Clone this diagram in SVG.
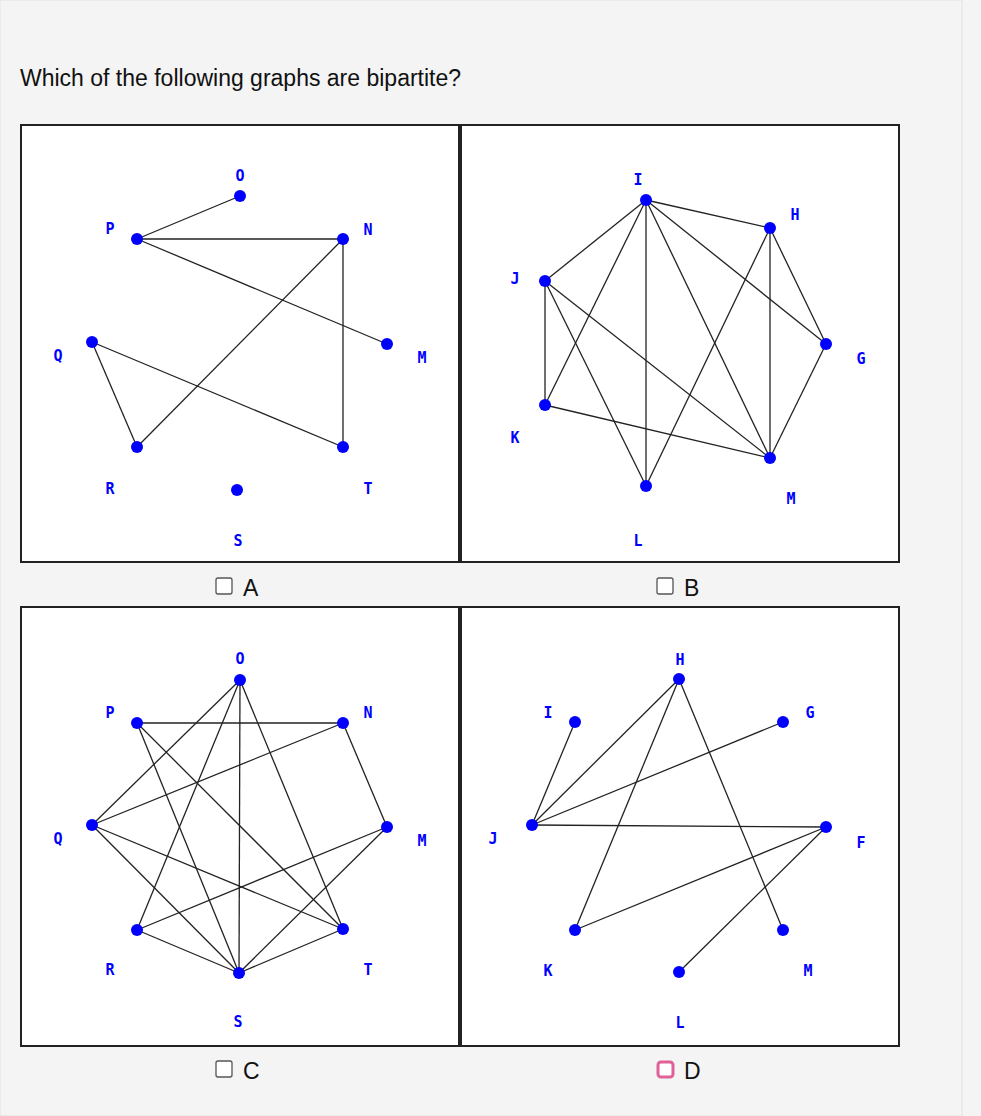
<svg xmlns="http://www.w3.org/2000/svg" width="981" height="1116" viewBox="0 0 981 1116">
<style>
.bg{fill:#f4f4f4}
.panel{fill:#fff;stroke:#222;stroke-width:2}
.e{stroke:#222;stroke-width:1.3;fill:none}
.n{fill:#0000ff}
.lb{fill:#0000ff;font-family:"DejaVu Sans Mono",monospace;font-weight:bold;font-size:15px;text-anchor:middle}
.q{font-family:"Liberation Sans",Arial,sans-serif;font-size:23px;fill:#111}
.cb{fill:#fff;stroke:#555;stroke-width:1.3}
.cbp{fill:#fff;stroke:#e0609a;stroke-width:3}
.ol{font-family:"Liberation Sans",Arial,sans-serif;font-size:23px;fill:#111}
</style>
<rect class="bg" width="981" height="1116"/>
<rect x="0" y="0" width="962" height="1116" fill="#f4f4f4" stroke="#e2e2e2"/>
<text class="q" x="20" y="86">Which of the following graphs are bipartite?</text>
<rect class="panel" x="21" y="125" width="438" height="437"/>
<rect class="panel" x="461" y="125" width="438" height="437"/>
<rect class="panel" x="21" y="607" width="438" height="439"/>
<rect class="panel" x="461" y="607" width="438" height="439"/>
<g id="connectors">
<line class="e" x1="240" y1="196" x2="137" y2="239"/>
<line class="e" x1="137" y1="239" x2="343" y2="239"/>
<line class="e" x1="137" y1="239" x2="387" y2="344"/>
<line class="e" x1="343" y1="239" x2="343" y2="447"/>
<line class="e" x1="343" y1="239" x2="137" y2="447"/>
<line class="e" x1="92" y1="342" x2="137" y2="447"/>
<line class="e" x1="92" y1="342" x2="343" y2="447"/>
<line class="e" x1="646" y1="200" x2="770" y2="228"/>
<line class="e" x1="646" y1="200" x2="545" y2="281"/>
<line class="e" x1="646" y1="200" x2="545" y2="405"/>
<line class="e" x1="646" y1="200" x2="646" y2="486"/>
<line class="e" x1="646" y1="200" x2="770" y2="458"/>
<line class="e" x1="646" y1="200" x2="826" y2="344"/>
<line class="e" x1="770" y1="228" x2="646" y2="486"/>
<line class="e" x1="770" y1="228" x2="770" y2="458"/>
<line class="e" x1="770" y1="228" x2="826" y2="344"/>
<line class="e" x1="545" y1="281" x2="545" y2="405"/>
<line class="e" x1="545" y1="281" x2="646" y2="486"/>
<line class="e" x1="545" y1="281" x2="770" y2="458"/>
<line class="e" x1="545" y1="405" x2="770" y2="458"/>
<line class="e" x1="826" y1="344" x2="770" y2="458"/>
<line class="e" x1="240" y1="680" x2="92" y2="825"/>
<line class="e" x1="240" y1="680" x2="137" y2="930"/>
<line class="e" x1="240" y1="680" x2="239" y2="973"/>
<line class="e" x1="240" y1="680" x2="343" y2="929"/>
<line class="e" x1="137" y1="723" x2="343" y2="723"/>
<line class="e" x1="137" y1="723" x2="239" y2="973"/>
<line class="e" x1="137" y1="723" x2="343" y2="929"/>
<line class="e" x1="343" y1="723" x2="92" y2="825"/>
<line class="e" x1="343" y1="723" x2="387" y2="827"/>
<line class="e" x1="92" y1="825" x2="343" y2="929"/>
<line class="e" x1="92" y1="825" x2="239" y2="973"/>
<line class="e" x1="387" y1="827" x2="137" y2="930"/>
<line class="e" x1="387" y1="827" x2="239" y2="973"/>
<line class="e" x1="137" y1="930" x2="239" y2="973"/>
<line class="e" x1="343" y1="929" x2="239" y2="973"/>
<line class="e" x1="575" y1="722" x2="532" y2="825"/>
<line class="e" x1="532" y1="825" x2="679" y2="679"/>
<line class="e" x1="532" y1="825" x2="783" y2="722"/>
<line class="e" x1="532" y1="825" x2="826" y2="827"/>
<line class="e" x1="679" y1="679" x2="575" y2="930"/>
<line class="e" x1="679" y1="679" x2="783" y2="930"/>
<line class="e" x1="575" y1="930" x2="826" y2="827"/>
<line class="e" x1="679" y1="972" x2="826" y2="827"/>
</g>
<g id="graphA">
<g id="A-O"><circle class="n" cx="240" cy="196" r="6"/><text class="lb" x="240" y="181">O</text></g>
<g id="A-P"><circle class="n" cx="137" cy="239" r="6"/><text class="lb" x="110" y="234">P</text></g>
<g id="A-N"><circle class="n" cx="343" cy="239" r="6"/><text class="lb" x="368" y="235">N</text></g>
<g id="A-Q"><circle class="n" cx="92" cy="342" r="6"/><text class="lb" x="58" y="361">Q</text></g>
<g id="A-M"><circle class="n" cx="387" cy="344" r="6"/><text class="lb" x="422" y="363">M</text></g>
<g id="A-R"><circle class="n" cx="137" cy="447" r="6"/><text class="lb" x="110" y="494">R</text></g>
<g id="A-S"><circle class="n" cx="237" cy="490" r="6"/><text class="lb" x="238" y="546">S</text></g>
<g id="A-T"><circle class="n" cx="343" cy="447" r="6"/><text class="lb" x="368" y="494">T</text></g>
</g>
<g id="graphB">
<g id="B-I"><circle class="n" cx="646" cy="200" r="6"/><text class="lb" x="638" y="185">I</text></g>
<g id="B-H"><circle class="n" cx="770" cy="228" r="6"/><text class="lb" x="795" y="220">H</text></g>
<g id="B-J"><circle class="n" cx="545" cy="281" r="6"/><text class="lb" x="515" y="284">J</text></g>
<g id="B-G"><circle class="n" cx="826" cy="344" r="6"/><text class="lb" x="861" y="364">G</text></g>
<g id="B-K"><circle class="n" cx="545" cy="405" r="6"/><text class="lb" x="515" y="443">K</text></g>
<g id="B-L"><circle class="n" cx="646" cy="486" r="6"/><text class="lb" x="638" y="546">L</text></g>
<g id="B-M"><circle class="n" cx="770" cy="458" r="6"/><text class="lb" x="791" y="504">M</text></g>
</g>
<g id="graphC">
<g id="C-O"><circle class="n" cx="240" cy="680" r="6"/><text class="lb" x="240" y="664">O</text></g>
<g id="C-P"><circle class="n" cx="137" cy="723" r="6"/><text class="lb" x="110" y="718">P</text></g>
<g id="C-N"><circle class="n" cx="343" cy="723" r="6"/><text class="lb" x="368" y="718">N</text></g>
<g id="C-Q"><circle class="n" cx="92" cy="825" r="6"/><text class="lb" x="58" y="844">Q</text></g>
<g id="C-M"><circle class="n" cx="387" cy="827" r="6"/><text class="lb" x="422" y="846">M</text></g>
<g id="C-R"><circle class="n" cx="137" cy="930" r="6"/><text class="lb" x="110" y="975">R</text></g>
<g id="C-S"><circle class="n" cx="239" cy="973" r="6"/><text class="lb" x="238" y="1027">S</text></g>
<g id="C-T"><circle class="n" cx="343" cy="929" r="6"/><text class="lb" x="368" y="975">T</text></g>
</g>
<g id="graphD">
<g id="D-H"><circle class="n" cx="679" cy="679" r="6"/><text class="lb" x="680" y="665">H</text></g>
<g id="D-I"><circle class="n" cx="575" cy="722" r="6"/><text class="lb" x="548" y="718">I</text></g>
<g id="D-G"><circle class="n" cx="783" cy="722" r="6"/><text class="lb" x="810" y="718">G</text></g>
<g id="D-J"><circle class="n" cx="532" cy="825" r="6"/><text class="lb" x="493" y="844">J</text></g>
<g id="D-F"><circle class="n" cx="826" cy="827" r="6"/><text class="lb" x="861" y="848">F</text></g>
<g id="D-K"><circle class="n" cx="575" cy="930" r="6"/><text class="lb" x="548" y="976">K</text></g>
<g id="D-M"><circle class="n" cx="783" cy="930" r="6"/><text class="lb" x="808" y="976">M</text></g>
<g id="D-L"><circle class="n" cx="679" cy="972" r="6"/><text class="lb" x="680" y="1028">L</text></g>
</g>
<g id="optA"><rect class="cb" x="216" y="578" width="16" height="16" rx="2"/><text class="ol" x="243" y="596">A</text></g>
<g id="optB"><rect class="cb" x="657" y="578" width="16" height="16" rx="2"/><text class="ol" x="684" y="596">B</text></g>
<g id="optC"><rect class="cb" x="216" y="1061" width="16" height="16" rx="2"/><text class="ol" x="243" y="1079">C</text></g>
<g id="optD"><rect class="cbp" x="658" y="1062" width="15" height="15" rx="3"/><text class="ol" x="684" y="1079">D</text></g>
</svg>
